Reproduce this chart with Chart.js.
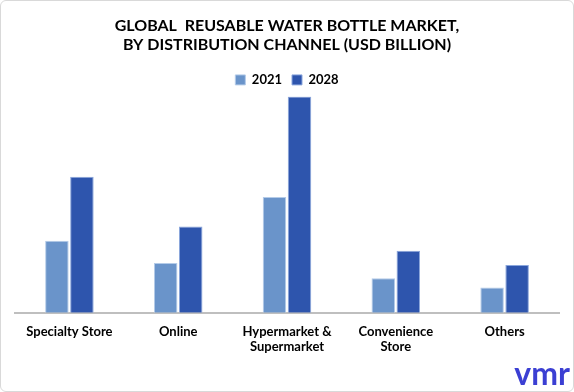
<!DOCTYPE html>
<html>
<head>
<meta charset="utf-8">
<script src="https://cdn.jsdelivr.net/npm/chart.js@4"></script>
<style>
  body { margin: 0; background: #fff; }
  #wrap { width: 572px; height: 390px; border: 1px solid #d9d9d9; border-radius: 6px; overflow: hidden; }
</style>
</head>
<body>
<div id="wrap"><canvas id="chart" width="572" height="390"></canvas></div>
<script>
const categories = ["Specialty Store", "Online", ["Hypermarket &", "Supermarket"], ["Convenience", "Store"], "Others"];
const values2021 = [3.55, 2.45, 5.7, 1.7, 1.25];
const values2028 = [6.7, 4.25, 10.65, 3.05, 2.35];

const logo = {
  id: "logo",
  afterDraw(chart) {
    const ctx = chart.ctx;
    ctx.save();
    ctx.fillStyle = "#3b3fd3";
    ctx.font = "bold 32px Lato";
    ctx.textAlign = "right";
    ctx.textBaseline = "alphabetic";
    ctx.fillText("vmr", 569, 384);
    ctx.restore();
  }
};

Chart.defaults.font.family = "Lato, 'Open Sans', sans-serif";
Chart.defaults.color = "#000";

new Chart(document.getElementById("chart"), {
  type: "bar",
  data: {
    labels: categories,
    datasets: [
      {
        label: "2021",
        data: values2021,
        backgroundColor: "#6a94ca",
        borderColor: "#b4cbe8",
        borderWidth: 1
      },
      {
        label: "2028",
        data: values2028,
        backgroundColor: "#2e55ad",
        borderColor: "#8aa6dc",
        borderWidth: 1
      }
    ]
  },
  options: {
    responsive: false,
    animation: false,
    layout: { padding: { left: 14, right: 14, bottom: 33 } },
    categoryPercentage: 0.46,
    barPercentage: 0.94,
    plugins: {
      title: {
        display: true,
        text: ["GLOBAL  REUSABLE WATER BOTTLE MARKET,", "BY DISTRIBUTION CHANNEL (USD BILLION)"],
        font: { size: 16, weight: "bold" },
        color: "#000",
        padding: { top: 15, bottom: 9 },
        lineHeight: 1.6
      },
      legend: {
        labels: {
          boxWidth: 10,
          boxHeight: 10,
          font: { size: 13, weight: "bold" },
          padding: 10
        }
      },
      tooltip: { enabled: false }
    },
    scales: {
      x: {
        grid: { display: false },
        border: { color: "#bfbfbf", width: 2 },
        ticks: { font: { size: 13, weight: "bold" }, color: "#000", maxRotation: 0, padding: 3 }
      },
      y: {
        display: false,
        min: 0,
        max: 10.65
      }
    }
  },
  plugins: [logo]
});
</script>
</body>
</html>
